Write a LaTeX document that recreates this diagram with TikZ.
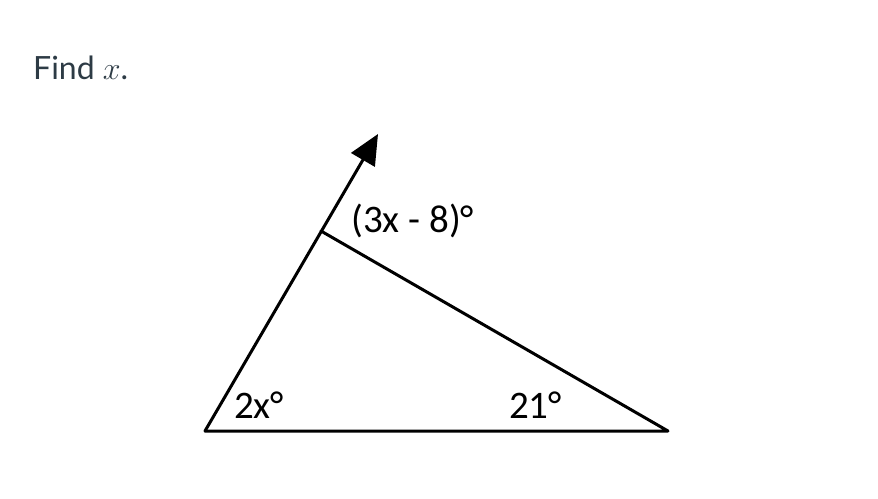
\documentclass[tikz,border=0pt]{standalone}
\usepackage{fix-cm}
\usepackage{fontspec}
\setmainfont{Carlito}
\newfontfamily\latofont{Lato}
\usetikzlibrary{arrows.meta}
\definecolor{canvastext}{HTML}{2D3B45}
\begin{document}
\begin{tikzpicture}[x=1pt,y=-1pt,
  edge/.style={line width=3pt, line cap=round, line join=round, black},
  lbl/.style={font=\fontsize{39}{42}\selectfont, inner sep=0pt, anchor=base west, black}]
\useasboundingbox (0,0) rectangle (878,498);
\node[font=\latofont\fontsize{32}{36}\selectfont, text=canvastext, inner sep=0pt, anchor=base west] (title) at (33,79) {Find $x$.};
\coordinate (A) at (205,431);
\coordinate (B) at (668,431);
\coordinate (C) at (321,231);
\coordinate (T) at (378,134);
\draw[edge] (A) -- (B) -- (C);
\draw[edge, -{Triangle[length=30pt,width=27pt]}] (A) -- (T);
\node[lbl] (top) at (351,232) {(3x - 8)°};
\node[lbl] (left) at (234,418) {2x°};
\node[lbl] (right) at (509,418) {21°};
\end{tikzpicture}
\end{document}
